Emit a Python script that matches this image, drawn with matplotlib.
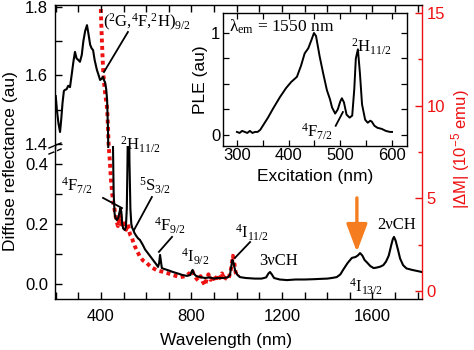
import matplotlib
matplotlib.use('Agg')
import matplotlib.pyplot as plt
from matplotlib.ticker import MultipleLocator, FixedLocator
from matplotlib.lines import Line2D

plt.rcParams['font.family'] = ['Liberation Sans', 'DejaVu Sans']
plt.rcParams['mathtext.default'] = 'regular'

# ---------------- data ----------------
# diffuse reflectance, upper (broken) part
wl_up = [200, 205, 212, 219, 224, 230, 236, 241, 248, 255, 263, 270, 278, 285, 292, 300,
         307, 315, 322, 330, 338, 345, 352, 358, 365, 372, 382, 390, 396, 402, 409, 414,
         418, 423, 427, 431, 434, 450, 453]
refl_up = [1.54, 1.50, 1.46, 1.435, 1.47, 1.52, 1.555, 1.558, 1.56, 1.57, 1.566, 1.60,
           1.64, 1.669, 1.65, 1.645, 1.64, 1.66, 1.70, 1.73, 1.747, 1.72, 1.69, 1.68,
           1.674, 1.645, 1.616, 1.60, 1.587, 1.59, 1.596, 1.585, 1.58, 1.56, 1.528, 1.44,
           1.30, 0.55, 0.46]
# diffuse reflectance, lower part
wl_lo = [434, 450, 453, 456, 460, 464, 470, 476, 482, 486, 490, 494, 498, 505, 510, 514,
         517, 520, 523, 526, 530, 534, 538, 541, 548, 556, 564, 572, 585, 595, 603, 615,
         630, 642, 652, 657, 661, 665, 669, 680, 700, 718, 740, 760, 780, 795, 800, 805,
         810, 820, 837, 860, 880, 900, 912, 940, 960, 970, 976, 981, 986, 993, 1003, 1014,
         1040, 1080, 1110, 1130, 1140, 1147, 1155, 1165, 1190, 1222, 1260, 1300, 1340,
         1368, 1400, 1420, 1442, 1458, 1470, 1490, 1509, 1525, 1535, 1545, 1555, 1565,
         1578, 1590, 1605, 1620, 1635, 1648, 1660, 1672, 1683, 1690, 1695, 1702, 1713,
         1722, 1735, 1750, 1775, 1800, 1818]
refl_lo = [1.30, 0.55, 0.46, 0.30, 0.235, 0.22, 0.213, 0.22, 0.24, 0.253, 0.24, 0.20,
           0.185, 0.18, 0.19, 0.25, 0.40, 0.60, 0.60, 0.40, 0.25, 0.20, 0.187, 0.183,
           0.17, 0.16, 0.152, 0.147, 0.13, 0.115, 0.107, 0.095, 0.08, 0.068, 0.057, 0.07,
           0.097, 0.075, 0.053, 0.05, 0.045, 0.04, 0.035, 0.03, 0.027, 0.03, 0.04, 0.047,
           0.035, 0.027, 0.023, 0.02, 0.022, 0.018, 0.02, 0.02, 0.022, 0.03, 0.06, 0.08,
           0.07, 0.045, 0.03, 0.023, 0.02, 0.018, 0.018, 0.022, 0.035, 0.04, 0.032, 0.02,
           0.015, 0.013, 0.015, 0.015, 0.016, 0.017, 0.018, 0.02, 0.023, 0.032, 0.047,
           0.07, 0.087, 0.09, 0.095, 0.103, 0.095, 0.08, 0.07, 0.06, 0.053, 0.055, 0.058,
           0.063, 0.075, 0.095, 0.13, 0.15, 0.157, 0.145, 0.113, 0.085, 0.063, 0.052,
           0.047, 0.043, 0.04]
# magnetization change |dM| (1e-5 emu)
wl_m = [398, 401, 404, 407, 410, 413, 417, 421, 425, 428, 431, 434, 438, 444, 450, 455,
        460, 465, 470, 475, 480, 485, 488, 492, 497, 502, 506, 511, 516, 520, 525, 530,
        536, 541, 550, 558, 570, 585, 603, 620, 645, 668, 692, 720, 750, 775, 795, 802,
        810, 820, 830, 840, 850, 860, 868, 875, 885, 895, 905, 915, 925, 935, 945, 955,
        965, 975, 983, 988, 995, 1003, 1008]
dm = [15.6, 14.5, 13.5, 12.6, 11.8, 11.3, 10.8, 10.4, 10.1, 9.6, 8.8, 7.8, 7.2, 6.0, 5.2,
      4.7, 4.4, 4.0, 3.7, 3.5, 3.8, 4.1, 3.9, 3.4, 3.6, 3.8, 3.6, 3.3, 3.5, 3.6, 3.2, 3.0,
      2.9, 2.7, 2.4, 2.2, 1.9, 1.65, 1.5, 1.3, 1.13, 1.05, 0.97, 0.85, 0.75, 0.8, 1.0,
      1.13, 0.9, 0.7, 0.55, 0.8, 0.5, 0.3, 0.7, 0.9, 0.6, 0.85, 0.5, 0.9, 0.7, 0.95, 0.6,
      0.8, 0.7, 1.2, 1.9, 1.6, 1.0, 0.8, 0.9]
# PLE inset
wl_ex = [300, 305, 310, 315, 320, 325, 330, 335, 340, 345, 350, 360, 370, 383, 395, 405,
         416, 424, 431, 438, 444, 449, 453, 460, 467, 474, 480, 484, 490, 495, 500, 503,
         507, 512, 518, 523, 527, 530, 534, 538, 542, 548, 553, 558, 561, 566, 572, 580,
         588, 596, 600]
ple = [0.03, 0.02, 0.04, 0.03, 0.02, 0.04, 0.02, 0.03, 0.03, 0.05, 0.09, 0.17, 0.26, 0.37,
       0.46, 0.52, 0.57, 0.68, 0.80, 0.85, 0.93, 1.0, 0.97, 0.77, 0.60, 0.44, 0.35, 0.27,
       0.21, 0.25, 0.33, 0.36, 0.32, 0.20, 0.17, 0.19, 0.45, 0.75, 0.84, 0.60, 0.30, 0.15,
       0.12, 0.14, 0.13, 0.09, 0.07, 0.06, 0.04, 0.03, 0.03]

RED = '#ee1111'
ORANGE = '#f57d1f'
SERIF = ['Liberation Serif', 'DejaVu Serif']

W, H = 474, 350
fig = plt.figure(figsize=(4.74, 3.5), dpi=100)


def rect(x0, y0, x1, y1):
    return [x0 / W, 1 - y1 / H, (x1 - x0) / W, (y1 - y0) / H]


def fp(x, y):
    return (x / W, 1 - y / H)


XL = (196.7, 1818.8)

ax_r = fig.add_axes(rect(55, 5, 422, 299), zorder=1)
ax_lo = fig.add_axes(rect(55, 146, 422, 299), zorder=2)
ax_up = fig.add_axes(rect(55, 5, 422, 148), zorder=2)
ax_in = fig.add_axes(rect(223, 13, 407, 146), zorder=3)

for a in (ax_lo, ax_up):
    a.patch.set_visible(False)

# red magnetization axis
ax_r.plot(wl_m, dm, color=RED, lw=2.8, dashes=(1, 0.9))
ax_r.set_xlim(*XL)
ax_r.set_ylim(-0.431, 15.42)
for s in ('left', 'top', 'bottom'):
    ax_r.spines[s].set_visible(False)
ax_r.spines['right'].set_color(RED)
ax_r.spines['right'].set_linewidth(1.0)
ax_r.set_xticks([])
ax_r.yaxis.tick_right()
ax_r.yaxis.set_major_locator(MultipleLocator(5))
ax_r.yaxis.set_minor_locator(MultipleLocator(2.5))
ax_r.tick_params(axis='y', which='both', direction='in', colors=RED, labelsize=12,
                 width=1.0, pad=3.5, labelcolor=RED)
ax_r.tick_params(axis='y', which='major', length=5)
ax_r.tick_params(axis='y', which='minor', length=3)

# lower reflectance
ax_lo.plot(wl_lo, refl_lo, color='black', lw=1.5)
ax_lo.set_xlim(*XL)
ax_lo.set_ylim(-0.05, 0.46)
ax_lo.spines['top'].set_visible(False)
ax_lo.spines['right'].set_visible(False)
ax_lo.yaxis.set_major_locator(FixedLocator([0.0, 0.2, 0.4]))
ax_lo.yaxis.set_minor_locator(FixedLocator([0.1, 0.3]))
ax_lo.set_yticklabels(['0.0', '0.2', '0.4'])
ax_lo.xaxis.set_major_locator(MultipleLocator(400))
ax_lo.xaxis.set_minor_locator(MultipleLocator(100))
ax_lo.tick_params(axis='both', which='both', direction='in', width=1.0, labelsize=12)
ax_lo.tick_params(which='major', length=5)
ax_lo.tick_params(which='minor', length=5)
ax_lo.tick_params(axis='x', pad=7)
ax_lo.tick_params(axis='y', pad=5)

# upper reflectance
ax_up.plot(wl_up, refl_up, color='black', lw=1.5)
ax_up.set_xlim(*XL)
ax_up.set_ylim(1.3883, 1.8058)
ax_up.spines['bottom'].set_visible(False)
ax_up.spines['right'].set_visible(False)
ax_up.yaxis.set_major_locator(FixedLocator([1.4, 1.6, 1.8]))
ax_up.yaxis.set_minor_locator(FixedLocator([1.5, 1.7]))
ax_up.set_yticklabels(['1.4', '1.6', '1.8'])
ax_up.xaxis.set_major_locator(MultipleLocator(400))
ax_up.xaxis.set_minor_locator(MultipleLocator(100))
ax_up.tick_params(axis='x', which='both', bottom=False, labelbottom=False, top=True,
                  direction='in', length=5, width=1.0)
ax_up.tick_params(axis='y', which='both', direction='in', width=1.0, labelsize=12, pad=5,
                  length=5)

for a in (ax_lo, ax_up):
    for s in a.spines.values():
        s.set_linewidth(1.0)

# break marks
for yb in (145.5, 151.5):
    fig.add_artist(Line2D([49 / W, 61 / W], [1 - (yb + 2.5) / H, 1 - (yb - 2.5) / H],
                          color='black', lw=1.0))
fig.add_artist(Line2D([55 / W, 55 / W], [1 - 150 / H, 1 - 147 / H], color='white', lw=2))

# inset
ax_in.plot(wl_ex, ple, color='black', lw=1.4)
ax_in.set_xlim(273, 629)
ax_in.set_ylim(-0.108, 1.196)
ax_in.xaxis.set_major_locator(MultipleLocator(100))
ax_in.xaxis.set_minor_locator(MultipleLocator(50))
ax_in.yaxis.set_major_locator(FixedLocator([0, 1]))
ax_in.yaxis.set_minor_locator(FixedLocator([0.25, 0.5, 0.75]))
ax_in.tick_params(which='both', direction='in', top=True, right=True, width=0.9,
                  labelsize=12, length=4)
ax_in.tick_params(axis='x', pad=1.5)
ax_in.tick_params(axis='y', pad=2)
for s in ax_in.spines.values():
    s.set_linewidth(1.0)
ax_in.set_xlabel('Excitation (nm)', fontsize=12.5, labelpad=4)
ax_in.set_ylabel('PLE (au)', fontsize=12.5, labelpad=2)
ax_in.text(0.03, 0.965, 'λ$_{em}$ = 1550 nm', transform=ax_in.transAxes, ha='left',
           va='top', fontsize=12.5, family=SERIF)
ax_in.text(559, 0.86, '$^{2}$H$_{11/2}$', ha='center', va='center', fontsize=12,
           family=SERIF)
ax_in.text(455, 0.03, '$^{4}$F$_{7/2}$', ha='center', va='center', fontsize=12,
           family=SERIF)
ax_in.plot([491, 505], [0.09, 0.225], color='black', lw=1.3)

# axis labels
fig.text(*fp(11, 161), 'Diffuse reflectance (au)', rotation=90, ha='center',
         va='center', fontsize=12.5)
fig.text(*fp(461, 149), '|ΔM| (10$^{-5}$ emu)', rotation=90, ha='center', va='center',
         fontsize=12, color=RED)
fig.text(*fp(226, 340), 'Wavelength (nm)', ha='center', va='center', fontsize=12.5)

# annotations main
ax_up.text(603, 1.756, '($^{2}$G,$^{4}$F,$^{2}$H)$_{9/2}$', ha='center', va='center',
           fontsize=12, family=SERIF)
ax_up.plot([519, 413], [1.727, 1.61], color='black', lw=1.3)
fig.text(*fp(140, 145), '$^{2}$H$_{11/2}$', ha='center', va='center', fontsize=12,
         family=SERIF, zorder=5)

lab = dict(ha='center', va='center', fontsize=12, family=SERIF)
ax_lo.text(294, 0.327, '$^{4}$F$_{7/2}$', **lab)
ax_lo.plot([409, 493], [0.287, 0.253], color='black', lw=1.3)
ax_lo.text(639, 0.327, '$^{5}$S$_{3/2}$', **lab)
ax_lo.plot([625, 546], [0.29, 0.18], color='black', lw=1.3)
ax_lo.text(705, 0.193, '$^{4}$F$_{9/2}$', **lab)
ax_lo.plot([714, 656], [0.157, 0.107], color='black', lw=1.3)
ax_lo.text(815, 0.09, '$^{4}$I$_{9/2}$', **lab)
ax_lo.text(1067, 0.17, '$^{4}$I$_{11/2}$', **lab)
ax_lo.plot([1059, 992], [0.14, 0.087], color='black', lw=1.3)
ax_lo.text(1187, 0.077, '3νCH', **lab)
ax_lo.text(1571, -0.01, '$^{4}$I$_{13/2}$', **lab)
ax_lo.text(1708, 0.197, '2νCH', **lab)
ax_lo.annotate('', xy=(1531, 0.107), xytext=(1531, 0.287),
               arrowprops=dict(arrowstyle='-|>,head_length=0.85,head_width=0.32',
                               mutation_scale=20, lw=2.4, color=ORANGE,
                               shrinkA=0, shrinkB=0))

fig.savefig('out.png', dpi=100)
